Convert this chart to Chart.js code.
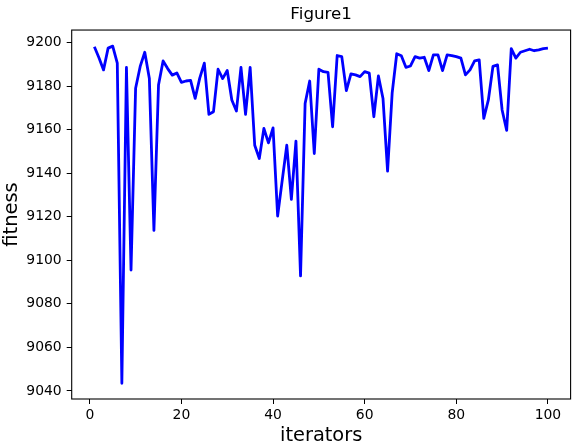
<!DOCTYPE html>
<html>
<head>
<meta charset="utf-8">
<script src="https://cdn.jsdelivr.net/npm/chart.js@4/dist/chart.umd.min.js"></script>
<style>
  html, body { margin: 0; padding: 0; background: #fff; }
  #wrap { width: 583px; height: 448px; }
</style>
</head>
<body>
<div id="wrap"><canvas id="myChart" width="583" height="448"></canvas></div>
<script>
// x values (iteration number)
let iterators = [
  1, 2, 3, 4, 5, 6, 7, 8, 9, 10,
  11, 12, 13, 14, 15, 16, 17, 18, 19, 20,
  21, 22, 23, 24, 25, 26, 27, 28, 29, 30,
  31, 32, 33, 34, 35, 36, 37, 38, 39, 40,
  41, 42, 43, 44, 45, 46, 47, 48, 49, 50,
  51, 52, 53, 54, 55, 56, 57, 58, 59, 60,
  61, 62, 63, 64, 65, 66, 67, 68, 69, 70,
  71, 72, 73, 74, 75, 76, 77, 78, 79, 80,
  81, 82, 83, 84, 85, 86, 87, 88, 89, 90,
  91, 92, 93, 94, 95, 96, 97, 98, 99, 100
];

// fitness
let fitness = [
  9198, 9193, 9187.4, 9197.4, 9198.3, 9190.5, 9043.5, 9188.5, 9095.5, 9179,
  9189, 9195.5, 9183.5, 9113.7, 9180.5, 9191.5, 9188, 9185, 9186, 9181.7,
  9182.3, 9182.6, 9174.3, 9183.6, 9190.5, 9167, 9168.2, 9187.7, 9183.4, 9187.1,
  9173.6, 9168.5, 9188.6, 9167, 9188.6, 9152.8, 9146.7, 9160.5, 9153.9, 9160.8,
  9120.3, 9136.7, 9152.8, 9128, 9154.7, 9092.8, 9172, 9182.3, 9149, 9187.7,
  9186.6, 9186.3, 9161.3, 9194, 9193.5, 9177.9, 9185.6, 9185.1, 9184.3, 9186.6,
  9185.9, 9165.9, 9184.6, 9174.3, 9140.9, 9176.7, 9194.8, 9193.9, 9188.6, 9189.2,
  9193.5, 9192.8, 9193.2, 9187.1, 9194.3, 9194.3, 9187.1, 9194.3, 9194, 9193.5,
  9192.8, 9185.1, 9187.4, 9191.5, 9192, 9165.1, 9173.6, 9189, 9189.7, 9169,
  9159.6, 9197.2, 9192.8, 9195.5, 9196.2, 9196.9, 9196.2, 9196.6, 9197.2, 9197.4
];

let x_ticks = [0, 20, 40, 60, 80, 100];
let y_ticks = [9040, 9060, 9080, 9100, 9120, 9140, 9160, 9180, 9200];

let font_family = "'DejaVu Sans', sans-serif";

// matplotlib style frame around the plot
let frame_plugin = {
  id: 'frame',
  afterDraw(chart) {
    let ctx = chart.ctx;
    let a = chart.chartArea;
    ctx.save();
    ctx.strokeStyle = '#000';
    ctx.lineWidth = 1.1;
    ctx.strokeRect(a.left, a.top, a.right - a.left, a.bottom - a.top);
    ctx.restore();
  }
};

let points = iterators.map((it, i) => ({ x: it, y: fitness[i] }));

let myChart = document.getElementById("myChart").getContext('2d');
let line_chart = new Chart(myChart, {
  type: 'line',
  data: {
    datasets: [
      {
        data: points,
        borderColor: '#0000ff',
        borderWidth: 2.8,
        borderJoinStyle: 'round',
        pointRadius: 0,
        tension: 0,
        fill: false
      }
    ]
  },
  options: {
    responsive: false,
    animation: false,
    layout: {
      padding: { left: 0, right: 12.4, top: 0, bottom: 0 }
    },
    plugins: {
      legend: { display: false },
      tooltip: { enabled: false },
      title: {
        display: true,
        text: 'Figure1',
        fullSize: false,
        color: '#000',
        font: { family: font_family, size: 16.7, weight: 'normal' },
        padding: { top: 5, bottom: 5 }
      }
    },
    scales: {
      x: {
        type: 'linear',
        min: -3.95,
        max: 104.95,
        afterBuildTicks: scale => { scale.ticks = x_ticks.map(v => ({ value: v })); },
        afterFit: scale => { scale.height = 49; },
        border: { display: false },
        grid: {
          display: true,
          drawOnChartArea: false,
          drawTicks: true,
          tickLength: 5,
          color: '#000',
          lineWidth: 1
        },
        ticks: {
          color: '#000',
          padding: 3,
          maxRotation: 0,
          callback: value => String(value),
          font: { family: font_family, size: 13.9 }
        },
        title: {
          display: true,
          text: 'iterators',
          color: '#000',
          font: { family: font_family, size: 19.4 },
          padding: { top: 0, bottom: 0 }
        }
      },
      y: {
        type: 'linear',
        min: 9036.3,
        max: 9205.7,
        afterBuildTicks: scale => { scale.ticks = y_ticks.map(v => ({ value: v })); },
        afterFit: scale => { scale.width = 71.7; },
        border: { display: false },
        grid: {
          display: true,
          drawOnChartArea: false,
          drawTicks: true,
          tickLength: 5,
          color: '#000',
          lineWidth: 1
        },
        ticks: {
          color: '#000',
          padding: 5,
          callback: value => String(value),
          font: { family: font_family, size: 13.9 }
        },
        title: {
          display: true,
          text: 'fitness',
          color: '#000',
          font: { family: font_family, size: 19.4 },
          padding: { top: 0, bottom: 0 }
        }
      }
    }
  },
  plugins: [frame_plugin]
});
</script>
</body>
</html>
